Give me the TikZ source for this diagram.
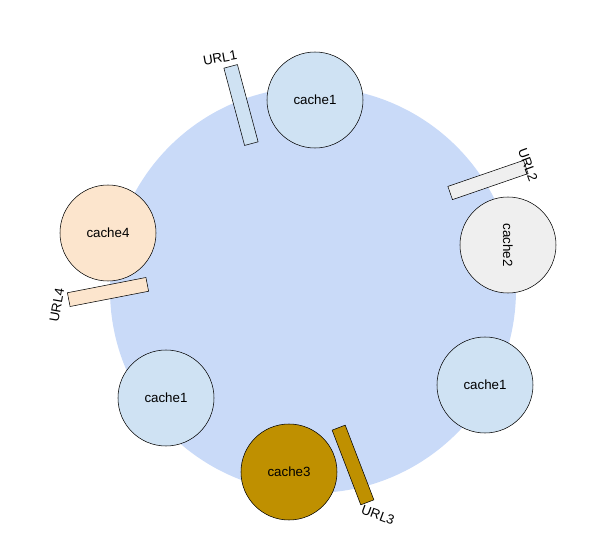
\documentclass[tikz,border=0pt]{standalone}
\usepackage{fontspec}
\setmainfont{Liberation Sans}
\usetikzlibrary{positioning}
\definecolor{ringblue}{HTML}{C9DAF8}
\definecolor{cacheblue}{HTML}{CFE2F3}
\definecolor{cachegray}{HTML}{EFEFEF}
\definecolor{cacheorange}{HTML}{FCE5CD}
\definecolor{cachegold}{HTML}{BF9000}
\tikzset{
	cache/.style={circle, draw=black, minimum size=72pt, inner sep=0pt, font=\fontsize{10}{12}\selectfont},
	url/.style={draw=black, minimum width=10.5pt, minimum height=60pt, inner sep=0pt},
	urllabel/.style={font=\fontsize{10}{12}\selectfont}
}
\begin{document}
\begin{tikzpicture}[x=0.75pt,y=-0.75pt]

	\useasboundingbox (0,0) rectangle (608,553);
	\node (ring) [circle, fill=ringblue, minimum size=304.5pt, inner sep=0pt] at (313,290) {};

	\node (c1a) [cache, fill=cacheblue] at (315,100) {cache1};
	\node (c2) [cache, fill=cachegray] at (508,245) {\rotatebox{-90}{cache2}};
	\node (c1b) [cache, fill=cacheblue] at (485,385) {cache1};
	\node (c3) [cache, fill=cachegold] at (289,472) {cache3};
	\node (c1c) [cache, fill=cacheblue] at (166,398) {cache1};
	\node (c4) [cache, fill=cacheorange] at (108,233) {cache4};

	\node (u1) [url, fill=cacheblue, rotate=15] at (241,105) {};
	\node (u2) [url, fill=cachegray, rotate=-71] at (488,180) {};
	\node (u3) [url, fill=cachegold, rotate=21] at (353,465) {};
	\node (u4) [url, fill=cacheorange, rotate=-79] at (108,292) {};

	\node (l1) [urllabel, rotate=10] at (220,58) {URL1};
	\node (l2) [urllabel, rotate=-70] at (528,165) {URL2};
	\node (l3) [urllabel, rotate=-20] at (378,515) {URL3};
	\node (l4) [urllabel, rotate=80] at (57,305) {URL4};

\end{tikzpicture}
\end{document}
